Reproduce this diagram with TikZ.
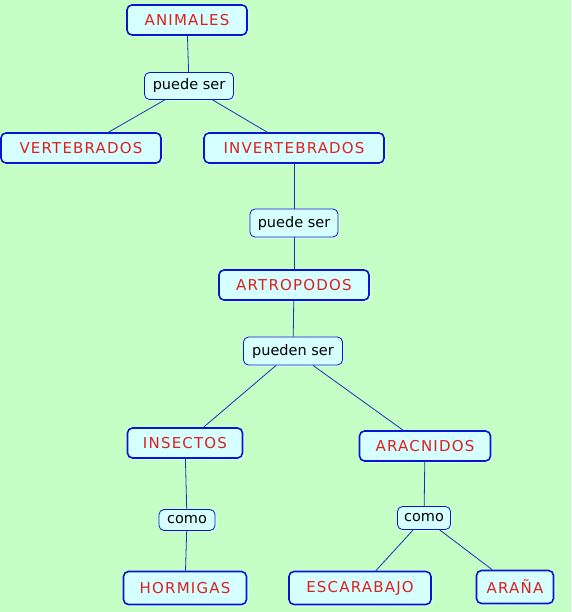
\documentclass[tikz,border=0pt]{standalone}
\usepackage{fontspec}
\setmainfont{DejaVu Sans}
\newfontfamily\conceptfont[LetterSpace=8]{DejaVu Sans}
\usetikzlibrary{shadows}
\definecolor{bggreen}{RGB}{198,255,198}
\definecolor{boxfill}{RGB}{214,255,255}
\definecolor{boxline}{RGB}{10,20,210}
\definecolor{linkline}{RGB}{20,50,190}
\definecolor{conceptred}{RGB}{225,30,30}
\tikzset{
    concept/.style={draw=boxline, line width=1.6pt, fill=boxfill, rounded corners=5pt,
        text=conceptred, font=\conceptfont\fontsize{15}{17}\selectfont, minimum height=30pt, inner xsep=4pt,
        drop shadow={fill=boxfill!70!bggreen, opacity=1, shadow xshift=2pt, shadow yshift=-2pt}},
    linkbox/.style={draw=boxline, line width=0.8pt, fill=boxfill, rounded corners=5pt,
        text=black, font=\fontsize{14.5}{16}\selectfont, minimum height=25pt, inner xsep=3pt,
        drop shadow={fill=boxfill!70!bggreen, opacity=1, shadow xshift=1.5pt, shadow yshift=-1.5pt}},
    link/.style={draw=linkline, line width=0.8pt}
}
\begin{document}
\begin{tikzpicture}[x=1pt, y=-1pt]
    \fill[bggreen] (0,0) rectangle (571,612);
    \useasboundingbox (0,0) rectangle (571,612);

    % Concepts
    \node[concept, minimum width=120pt] (animales) at (187,20) {ANIMALES};
    \node[concept, minimum width=160pt] (vert) at (81,148) {VERTEBRADOS};
    \node[concept, minimum width=180pt] (invert) at (294,148) {INVERTEBRADOS};
    \node[concept, minimum width=150pt] (artro) at (294,285) {ARTROPODOS};
    \node[concept, minimum width=115pt] (insectos) at (185,443) {INSECTOS};
    \node[concept, minimum width=131pt] (aracnidos) at (425,446) {ARACNIDOS};
    \node[concept, minimum width=123pt, minimum height=33pt] (hormigas) at (185,588) {HORMIGAS};
    \node[concept, minimum width=142pt, minimum height=33pt] (escarabajo) at (360,588) {ESCARABAJO};
    \node[concept, minimum width=77pt, minimum height=33pt] (arana) at (515,587) {ARAÑA};

    % Linking phrases
    \node[linkbox, minimum width=89pt, minimum height=27pt] (ps1) at (189,86) {puede ser};
    \node[linkbox, minimum width=88pt, minimum height=28pt] (ps2) at (294,223) {puede ser};
    \node[linkbox, minimum width=99pt, minimum height=28pt] (pns) at (293,351) {pueden ser};
    \node[linkbox, minimum width=56pt, minimum height=21pt] (como1) at (187,520) {como};
    \node[linkbox, minimum width=53pt, minimum height=23pt] (como2) at (424,518) {como};

    % Connections
    \draw[link] (animales) -- (ps1);
    \draw[link] (ps1) -- (vert);
    \draw[link] (ps1) -- (invert);
    \draw[link] (invert) -- (ps2);
    \draw[link] (ps2) -- (artro);
    \draw[link] (artro) -- (pns);
    \draw[link] (pns) -- (insectos);
    \draw[link] (pns) -- (aracnidos);
    \draw[link] (insectos) -- (como1);
    \draw[link] (como1) -- (hormigas);
    \draw[link] (aracnidos) -- (como2);
    \draw[link] (como2) -- (escarabajo);
    \draw[link] (como2) -- (arana);
\end{tikzpicture}
\end{document}
